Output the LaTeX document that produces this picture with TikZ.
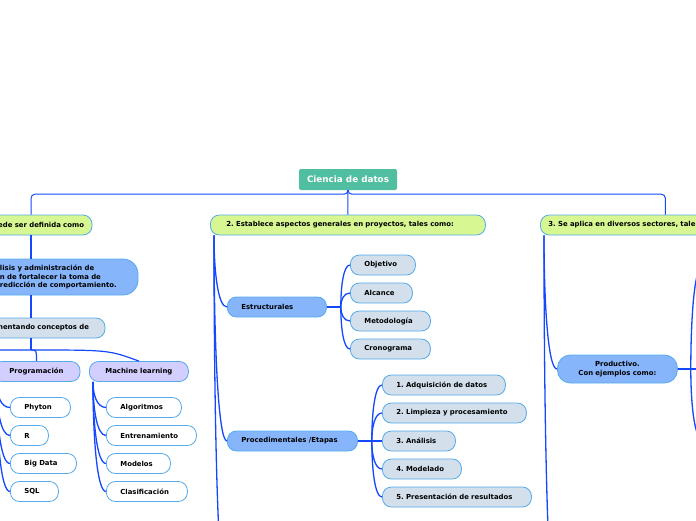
\documentclass[tikz,border=0pt]{standalone}
\usepackage{fontspec}
\setmainfont{DejaVu Sans}
\usepackage{tikz}
\usetikzlibrary{calc}
\definecolor{linea}{RGB}{20,72,255}
\definecolor{borde}{RGB}{84,170,235}
\definecolor{raiz}{RGB}{80,190,160}
\definecolor{verde}{RGB}{214,247,146}
\definecolor{azul}{RGB}{134,181,252}
\definecolor{gris}{RGB}{211,224,236}
\definecolor{lila}{RGB}{210,206,255}
\frenchspacing
\hyphenpenalty=10000

\begin{document}
\begin{tikzpicture}[
			x=1pt, y=1pt,
			font=\fontsize{6.9}{8.4}\selectfont\bfseries,
			caja/.style={
				draw=borde,
				line width=0.8pt,
				rounded corners=9pt,
				minimum height=20pt,
				inner ysep=2pt,
				inner xsep=14pt,
				align=left,
				anchor=west,
			},
			tema/.style={caja, fill=verde},
			rama/.style={caja, fill=azul},
			item/.style={caja, fill=gris},
			lenguaje/.style={caja, fill=lila},
			hoja/.style={caja, fill=white},
			tronco/.style={draw=linea, line width=1pt, rounded corners=4pt},
			union/.style={draw=linea, line width=2pt},
			bra/.style={draw=linea, line width=1.3pt,
				to path={.. controls ($(\tikztostart)!0.5!(\tikztostart|-\tikztotarget)$)
					and ($(\tikztotarget)!0.7!(\tikztostart|-\tikztotarget)$) .. (\tikztotarget)}},
			]
			\useasboundingbox (0,0) rectangle (696,-520);
			\clip (0,0) rectangle (696,-520);
			%% Central
			\node [fill=raiz, text=white, rounded corners=2pt, minimum width=98pt, minimum height=21pt,
				font=\fontsize{8.8}{10}\selectfont\bfseries] (cd) at (348,-179.5) {Ciencia de datos};
			\node [tema, anchor=center, inner xsep=8pt, text width=106pt, align=right] (t1) at (31,-225) {ede ser definida como};
			\node [tema, inner xsep=16pt, text width=243pt] (t2) at (210,-225) {2. Establece aspectos generales en proyectos, tales como:};
			\node [tema, inner xsep=8pt, text width=234pt] (t3) at (540,-225) {3. Se aplica en diversos sectores, tale};
			\draw [tronco] (cd.south) -- ++(0,-4) -| (t1.north);
			\draw [tronco] (cd.south) -- ++(0,-4) -| (t3.north);
			\draw [tronco] (cd.south) -- (t2.north);
			%% 1
			\node [rama, anchor=center, inner xsep=8pt, text width=198pt, minimum height=36pt, rounded corners=15pt] (def) at (31,-277)
				{\hspace*{68pt}lisis y administración de\\\hspace*{68pt}n de fortalecer la toma de\\\hspace*{68pt}redicción de comportamiento.};
			\node [item, anchor=center, inner xsep=16pt, text width=116pt, align=right] (men) at (31,-328) {mentando conceptos de};
			\node [lenguaje, anchor=center, text width=59pt, align=center] (pro) at (36.5,-371.5) {Programación};
			\node [lenguaje, text width=71pt, align=center] (ml) at (89,-371.5) {Machine learning};
			\coordinate (j1) at (31,-350);
			\coordinate (izq) at (-60,-362);
			\draw [linea, line width=1.2pt] (t1.south) -- (def.north);
			\draw [linea, line width=1.2pt] (def.south) -- (men.north);
			\draw [linea, line width=1.2pt] (men.south) -- (j1);
			\draw [linea, line width=1.2pt] (j1) .. controls (j1 -| pro.north) .. (pro.north);
			\draw [linea, line width=1.2pt] (j1) .. controls ($(j1 -| ml.north)+(-30,0)$) .. (ml.north);
			\draw [linea, line width=1.2pt] (j1) .. controls (j1 -| izq) .. (izq);
			\node [hoja, text width=32pt] (phy) at (10,-407.5) {Phyton};
			\node [hoja, text width=10pt] (r) at (10,-435.5) {R};
			\node [hoja, text width=38pt] (bd) at (10,-463.5) {Big Data};
			\node [hoja, text width=20pt] (sql) at (10,-491.5) {SQL};
			\node [hoja, text width=47pt] (alg) at (106,-407.5) {Algoritmos};
			\node [hoja, text width=62pt] (ent) at (106,-435.5) {Entrenamiento};
			\node [hoja, text width=36pt] (mod) at (106,-463.5) {Modelos};
			\node [hoja, text width=53pt] (cla) at (106,-491.5) {Clasificación};
			\coordinate (sp) at ($(pro.south west)+(4,0)$);
			\coordinate (sm) at ($(ml.south west)+(4,0)$);
			\draw [bra] (sp) to (phy.west);
			\draw [bra] (sp) to (r.west);
			\draw [bra] (sp) to (bd.west);
			\draw [bra] (sp) to (sql.west);
			\draw [bra] (sm) to (alg.west);
			\draw [bra] (sm) to (ent.west);
			\draw [bra] (sm) to (mod.west);
			\draw [bra] (sm) to (cla.west);
			%% 2
			\node [rama, text width=71pt] (est) at (227,-307) {Estructurales};
			\node [rama, text width=102pt] (proc) at (227,-441) {Procedimentales /Etapas};
			\coordinate (s2) at ($(t2.south west)+(4,0)$);
			\coordinate (abajo2) at (227,-600);
			\draw [bra] (s2) to (est.west);
			\draw [bra] (s2) to (proc.west);
			\draw [bra] (s2) to (abajo2);
			\node [item, text width=37pt] (obj) at (350,-265) {Objetivo};
			\node [item, text width=34pt] (alc) at (350,-293) {Alcance};
			\node [item, text width=52pt] (met) at (350,-321) {Metodología};
			\node [item, text width=52pt] (cro) at (350,-349) {Cronograma};
			\coordinate (je) at ($(est.east)+(14,0)$);
			\draw [union] (est.east) -- (je);
			\draw [bra] (je) to (obj.west);
			\draw [bra] (je) to (alc.west);
			\draw [bra] (je) to (met.west);
			\draw [bra] (je) to (cro.west);
			\node [item, text width=95pt] (e1) at (382,-385) {1. Adquisición de datos};
			\node [item, text width=116pt] (e2) at (382,-413) {2. Limpieza y procesamiento};
			\node [item, text width=45pt] (e3) at (382,-441) {3. Análisis};
			\node [item, text width=51pt] (e4) at (382,-469) {4. Modelado};
			\node [item, text width=121pt] (e5) at (382,-497) {5. Presentación de resultados};
			\coordinate (jp) at ($(proc.east)+(14,0)$);
			\draw [union] (proc.east) -- (jp);
			\draw [bra] (jp) to (e1.west);
			\draw [bra] (jp) to (e2.west);
			\draw [bra] (jp) to (e3.west);
			\draw [bra] (jp) to (e4.west);
			\draw [bra] (jp) to (e5.west);
			%% 3
			\node [rama, text width=92pt, align=center, minimum height=28pt, rounded corners=13pt] (prod) at (557,-369) {Productivo.\\Con ejemplos como:};
			\coordinate (s3) at ($(t3.south west)+(4,0)$);
			\coordinate (abajo3) at (557,-620);
			\draw [bra] (s3) to (prod.west);
			\draw [bra] (s3) to (abajo3);
			\coordinate (jr) at ($(prod.east)+(13,0)$);
			\coordinate (p1) at (703,-265);
			\coordinate (p2) at (703,-369);
			\coordinate (p3) at (703,-440);
			\draw [union] (prod.east) -- (jr);
			\draw [bra] (jr) to (p1);
			\draw [bra] (jr) to (p2);
			\draw [bra] (jr) to (p3);
		\end{tikzpicture}
\end{document}
